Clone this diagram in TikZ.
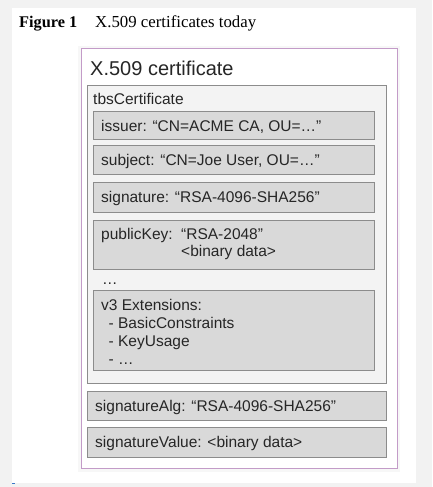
\documentclass[tikz,border=0pt]{standalone}
\usepackage{fontspec}
\setmainfont{Liberation Serif}
\newfontfamily\sansf{Liberation Sans}
\definecolor{bgout}{HTML}{F2F2F2}
\definecolor{boxfill}{HTML}{D9D9D9}
\definecolor{boxline}{HTML}{8C8C8C}
\definecolor{tbsfill}{HTML}{F3F3F3}
\definecolor{purp}{HTML}{C39BC8}
\definecolor{tick}{HTML}{3A78C8}
\begin{document}
\begin{tikzpicture}[x=1pt,y=-1pt,
  box/.style={fill=boxfill,draw=boxline,line width=1pt},
  lbl/.style={anchor=base west,inner sep=0pt,font=\sansf\fontsize{15.5}{17}\selectfont,text=black!85}]
\useasboundingbox (0,0) rectangle (432,487);
\fill[bgout] (0,0) rectangle (432,487);
\fill[white] (12,8) rectangle (416,483);
\draw[tick,line width=1pt] (12,483) -- (15,483);
% caption
\node[anchor=base west,inner sep=0pt,font=\fontsize{16.3}{18}\selectfont\bfseries] (fig) at (19,28) {Figure 1};
\node[anchor=base west,inner sep=0pt,font=\fontsize{16.8}{18}\selectfont] (cap) at (95,28) {X.509 certificates today};
% outer certificate box
\fill[black!3] (78,46) rectangle (400,472);
\draw[purp,line width=1pt,fill=white] (81,49) rectangle (397,468);
\node[anchor=base west,inner sep=0pt,font=\sansf\fontsize{20}{22}\selectfont,text=black!85] (title) at (90,75) {X.509 certificate};
% tbsCertificate
\draw[fill=tbsfill,draw=boxline,line width=1pt] (87,85) rectangle (386,383);
\node[lbl] (tbs) at (93,104.5) {tbsCertificate};
\draw[box] (93,111) rectangle (374,139);
\node[lbl] (issuer) at (101,131) {issuer: “CN=ACME CA, OU=…”};
\draw[box] (93,145) rectangle (374,174);
\node[lbl] (subject) at (101,165.5) {subject: “CN=Joe User, OU=…”};
\draw[box] (93,182) rectangle (374,212);
\node[lbl] (signature) at (101,202.5) {signature: “RSA-4096-SHA256”};
\draw[box] (93,220) rectangle (374,269);
\node[lbl] (pk) at (101,239) {publicKey:};
\node[lbl] (pkalg) at (181,239) {“RSA-2048”};
\node[lbl] (pkdata) at (181,256.5) {<binary data>};
\node[lbl] (dots) at (102,284) {…};
\draw[box] (93,290) rectangle (374,370);
\node[lbl] (ext) at (101,310.5) {v3 Extensions:};
\node[lbl] (bc) at (108.5,328.5) {- BasicConstraints};
\node[lbl] (ku) at (108.5,346.5) {- KeyUsage};
\node[lbl] (more) at (108.5,364.5) {- …};
% signature
\draw[box] (87,391) rectangle (386,420);
\node[lbl] (salg) at (95,411) {signatureAlg: “RSA-4096-SHA256”};
\draw[box] (87,427) rectangle (386,457);
\node[lbl] (sval) at (95,447.5) {signatureValue: <binary data>};
\end{tikzpicture}
\end{document}
